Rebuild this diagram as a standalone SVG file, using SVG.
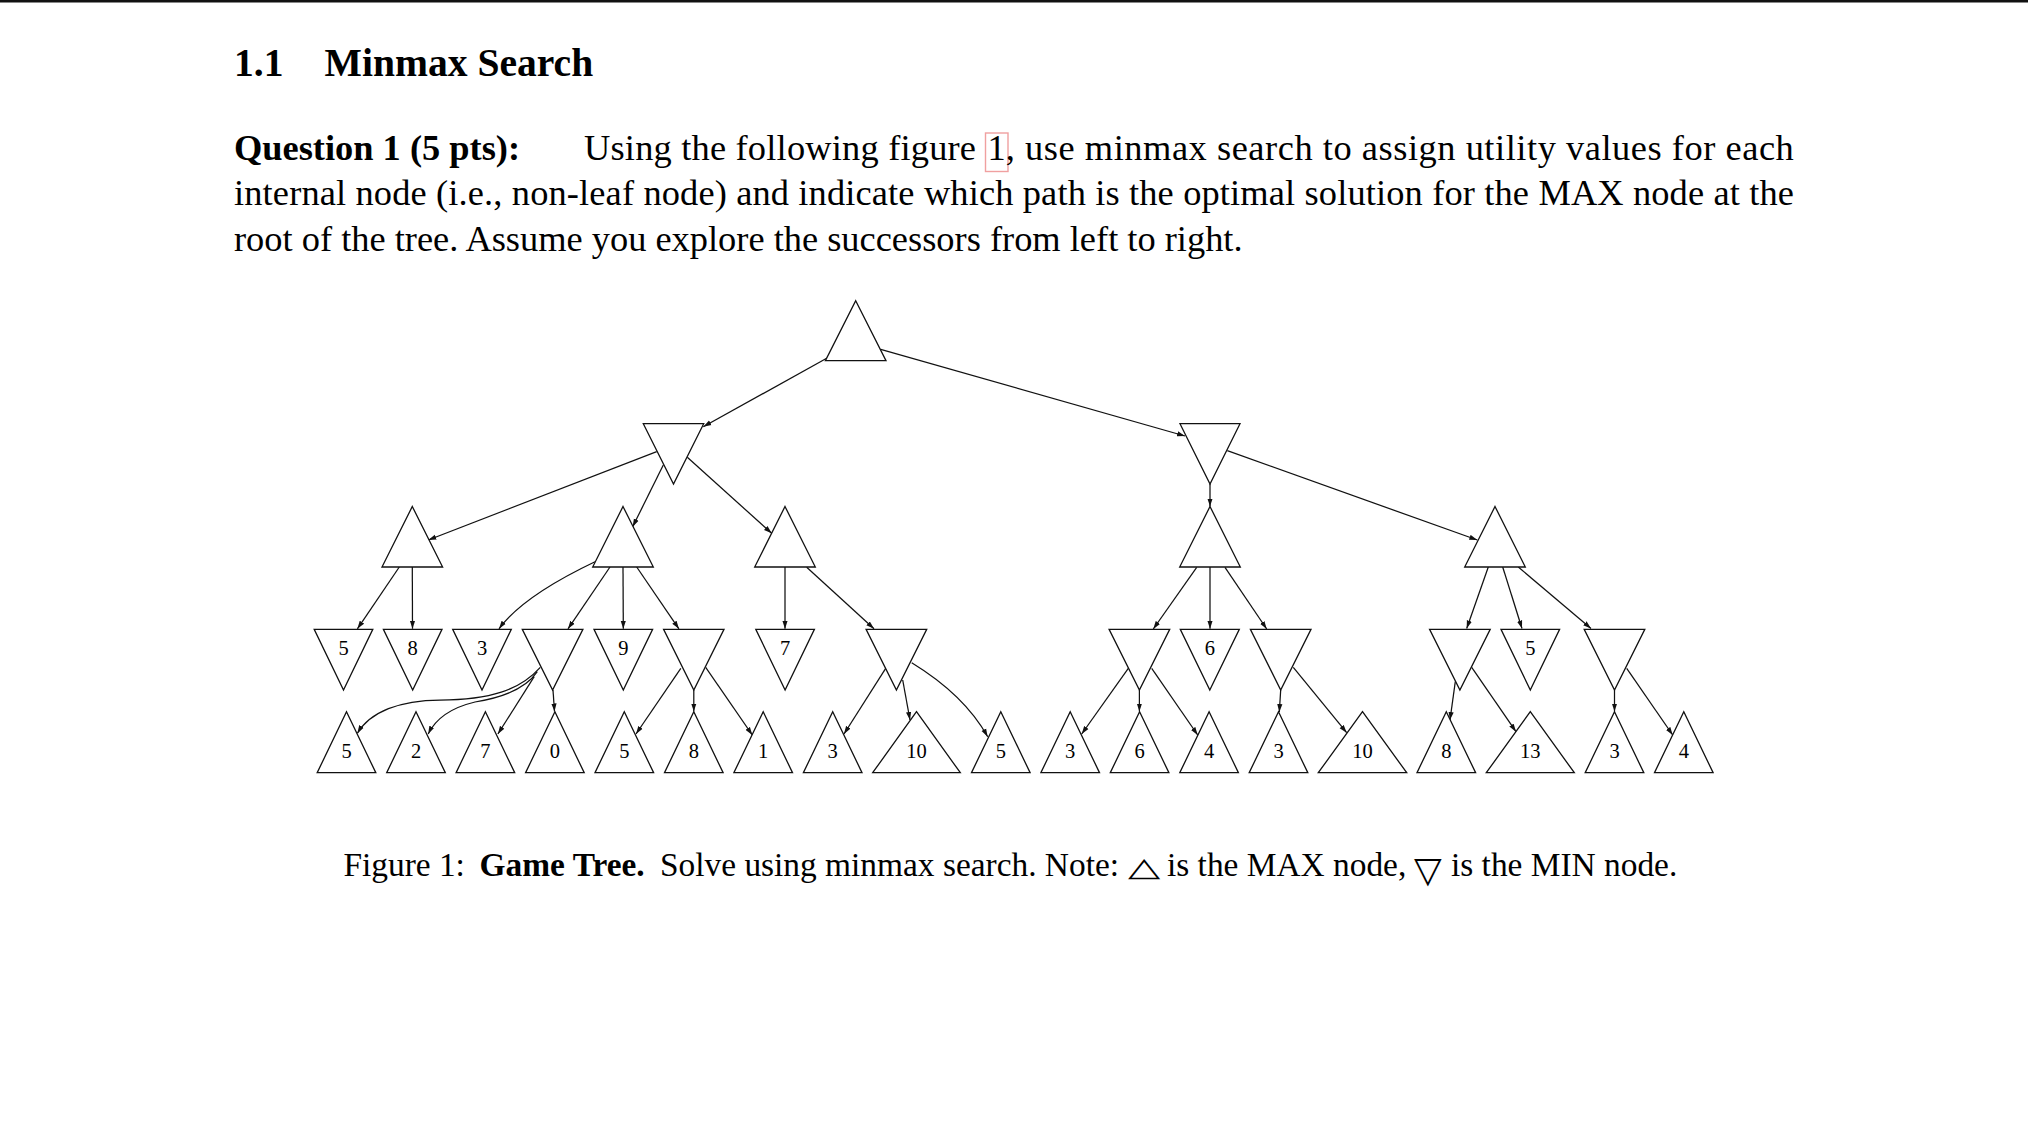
<svg xmlns="http://www.w3.org/2000/svg" width="2028" height="1142" viewBox="0 0 2028 1142">
<style>
.t{font-family:"Liberation Serif","Times New Roman",serif;fill:#000}
.h{font-size:39.6px;font-weight:bold}
.b{font-size:36.4px}
.bb{font-weight:bold}
.c{font-size:33.4px}
.sym{font-family:"DejaVu Sans",sans-serif;fill:#000}
.node polygon{fill:#fff;stroke:#111;stroke-width:1.3}
.node text{font-family:"Liberation Serif","Times New Roman",serif;font-size:20.5px;text-anchor:middle;fill:#000}
#connectors path{fill:none;stroke:#111;stroke-width:1.25;marker-end:url(#arr)}
</style>
<defs>
<marker id="arr" markerUnits="userSpaceOnUse" markerWidth="9" markerHeight="6" refX="8" refY="3" orient="auto">
<path d="M0,0.4 L8,3 L0,5.6 z" fill="#111"/>
</marker>
</defs>
<rect x="0" y="0" width="2028" height="1142" fill="#fff"/>
<rect x="0" y="0" width="2028" height="2.5" fill="#111"/>

<g id="heading">
<text class="t h" x="234" y="76">1.1</text>
<text class="t h" x="324.6" y="76">Minmax Search</text>
</g>
<g id="question">
<text class="t b bb" x="234" y="159.5">Question 1 (5 pts):</text>
<text class="t b" x="584" y="159.5" textLength="392" lengthAdjust="spacing">Using the following figure</text>
<text class="t b" x="987.6" y="159.5">1</text>
<rect x="985.5" y="133" width="22.5" height="38.5" fill="none" stroke="#f0a0a0" stroke-width="1.4"/>
<text class="t b" x="1005.8" y="159.5" textLength="788" lengthAdjust="spacing">, use minmax search to assign utility values for each</text>
<text class="t b" x="234" y="205" textLength="1560" lengthAdjust="spacing">internal node (i.e., non-leaf node) and indicate which path is the optimal solution for the MAX node at the</text>
<text class="t b" x="234" y="250.5">root of the tree. Assume you explore the successors from left to right.</text>
</g>

<g id="connectors">
<path d="M826.7,358.3 L703.3,426.7"/>
<path d="M880.7,349.3 L1185,436"/>
<path d="M656.7,451.7 L428.3,540"/>
<path d="M663.3,465 L632.7,526.7"/>
<path d="M687.3,457.3 L771.7,533.3"/>
<path d="M1210,484 L1210,506.5"/>
<path d="M1227.3,450.7 L1477.3,540"/>
<path d="M399.3,567 L357.4,628.8"/>
<path d="M412.3,567 L412.5,628.8"/>
<path d="M595,561.7 C565,576 520,600 499,628.8"/>
<path d="M610,567 L568,628.8"/>
<path d="M623,567 L623.3,628.8"/>
<path d="M636.7,567 L678.9,628.8"/>
<path d="M785,567 L785,628.8"/>
<path d="M806.7,567.3 L874,628.8"/>
<path d="M1196.7,567.3 L1153.3,629"/>
<path d="M1210,567 L1210,628.8"/>
<path d="M1225,567.3 L1266.7,629"/>
<path d="M1488.3,567 L1466.7,628.5"/>
<path d="M1502.7,567 L1522,628.5"/>
<path d="M1518.3,567 L1591,628.5"/>
<path d="M540.3,667.3 C520,690 490,700 440,700 C400,700 370,712 357.4,733.3"/>
<path d="M537.3,671.7 C525,690 500,698 475,702 C450,708 435,720 428.2,734"/>
<path d="M534.2,676.7 L497.9,734"/>
<path d="M553,690 L554.5,711.5"/>
<path d="M680.8,668.3 L636,734"/>
<path d="M693.8,690 L693.8,711.5"/>
<path d="M705.7,667.3 L752.3,735"/>
<path d="M885.7,668.3 L844,734"/>
<path d="M902.7,680 L910,720"/>
<path d="M911.7,662.7 C940,680 970,705 987.7,736.7"/>
<path d="M1128.3,668.3 L1081.7,734"/>
<path d="M1139.4,690 L1139.4,711.5"/>
<path d="M1151.7,668.3 L1197.7,735"/>
<path d="M1280.7,690 L1279.3,712"/>
<path d="M1293.3,667.3 L1346.7,732.7"/>
<path d="M1455.3,681.7 L1450,720"/>
<path d="M1471.7,667.3 L1516,731.7"/>
<path d="M1614.5,690 L1614.5,711.5"/>
<path d="M1626.7,668.3 L1672.7,735"/>
</g>

<g id="root" class="node"><polygon points="855.7,300.7 886,360.7 825.4,360.7"/></g>
<g id="minL" class="node"><polygon points="643.3,423.7 703.7,423.7 673.5,484"/></g>
<g id="minR" class="node"><polygon points="1180,423.7 1240,423.7 1210,484"/></g>

<g id="maxA" class="node"><polygon points="412.3,506.5 442.6,567 382,567"/></g>
<g id="maxB" class="node"><polygon points="623,506.5 653.3,567 592.7,567"/></g>
<g id="maxC" class="node"><polygon points="785,506.5 815.3,567 754.7,567"/></g>
<g id="maxD" class="node"><polygon points="1210,506.5 1240.3,567 1179.7,567"/></g>
<g id="maxE" class="node"><polygon points="1495,506.5 1525.3,567 1464.7,567"/></g>

<g id="min5" class="node"><polygon points="314.2,629.3 372.8,629.3 343.5,690"/><text x="343.5" y="655">5</text></g>
<g id="min8" class="node"><polygon points="383.4,629.3 442,629.3 412.7,690"/><text x="412.7" y="655">8</text></g>
<g id="min3" class="node"><polygon points="452.7,629.3 511.3,629.3 482,690"/><text x="482" y="655">3</text></g>
<g id="minM1" class="node"><polygon points="522.3,629.3 582.9,629.3 552.6,690"/></g>
<g id="min9" class="node"><polygon points="594,629.3 652.6,629.3 623.3,690"/><text x="623.3" y="655">9</text></g>
<g id="minM2" class="node"><polygon points="663.6,629.3 724,629.3 693.8,690"/></g>
<g id="min7" class="node"><polygon points="755.8,629.3 814.4,629.3 785.1,690"/><text x="785.1" y="655">7</text></g>
<g id="minM3" class="node"><polygon points="866.1,629.3 926.7,629.3 896.4,690"/></g>
<g id="minM4" class="node"><polygon points="1109.1,629.3 1169.7,629.3 1139.4,690"/></g>
<g id="min6" class="node"><polygon points="1180.3,629.3 1239.3,629.3 1209.8,690"/><text x="1209.8" y="655">6</text></g>
<g id="minM5" class="node"><polygon points="1250.4,629.3 1311,629.3 1280.7,690"/></g>
<g id="minM6" class="node"><polygon points="1429.6,629.3 1490.2,629.3 1459.9,690"/></g>
<g id="min5b" class="node"><polygon points="1501,629.3 1559.6,629.3 1530.3,690"/><text x="1530.3" y="655">5</text></g>
<g id="minM7" class="node"><polygon points="1584.2,629.3 1644.8,629.3 1614.5,690"/></g>

<g id="leaf1" class="node"><polygon points="346.5,711.7 375.8,772.7 317.2,772.7"/><text x="346.5" y="757.5">5</text></g>
<g id="leaf2" class="node"><polygon points="416,711.7 445.3,772.7 386.7,772.7"/><text x="416" y="757.5">2</text></g>
<g id="leaf3" class="node"><polygon points="485.4,711.7 514.7,772.7 456.1,772.7"/><text x="485.4" y="757.5">7</text></g>
<g id="leaf4" class="node"><polygon points="554.9,711.7 584.2,772.7 525.6,772.7"/><text x="554.9" y="757.5">0</text></g>
<g id="leaf5" class="node"><polygon points="624.3,711.7 653.6,772.7 595,772.7"/><text x="624.3" y="757.5">5</text></g>
<g id="leaf6" class="node"><polygon points="693.8,711.7 723.1,772.7 664.5,772.7"/><text x="693.8" y="757.5">8</text></g>
<g id="leaf7" class="node"><polygon points="763.2,711.7 792.5,772.7 733.9,772.7"/><text x="763.2" y="757.5">1</text></g>
<g id="leaf8" class="node"><polygon points="832.7,711.7 862,772.7 803.4,772.7"/><text x="832.7" y="757.5">3</text></g>
<g id="leaf9" class="node"><polygon points="916.5,711.7 960.3,772.7 872.7,772.7"/><text x="916.5" y="757.5">10</text></g>
<g id="leaf10" class="node"><polygon points="1000.8,711.7 1030.1,772.7 971.5,772.7"/><text x="1000.8" y="757.5">5</text></g>
<g id="leaf11" class="node"><polygon points="1070.2,711.7 1099.5,772.7 1040.9,772.7"/><text x="1070.2" y="757.5">3</text></g>
<g id="leaf12" class="node"><polygon points="1139.6,711.7 1168.9,772.7 1110.3,772.7"/><text x="1139.6" y="757.5">6</text></g>
<g id="leaf13" class="node"><polygon points="1209.1,711.7 1238.4,772.7 1179.8,772.7"/><text x="1209.1" y="757.5">4</text></g>
<g id="leaf14" class="node"><polygon points="1278.5,711.7 1307.8,772.7 1249.2,772.7"/><text x="1278.5" y="757.5">3</text></g>
<g id="leaf15" class="node"><polygon points="1362.5,711.7 1406.7,772.7 1318.3,772.7"/><text x="1362.5" y="757.5">10</text></g>
<g id="leaf16" class="node"><polygon points="1446.3,711.7 1475.6,772.7 1417,772.7"/><text x="1446.3" y="757.5">8</text></g>
<g id="leaf17" class="node"><polygon points="1530.3,711.7 1574.3,772.7 1486.3,772.7"/><text x="1530.3" y="757.5">13</text></g>
<g id="leaf18" class="node"><polygon points="1614.5,711.7 1643.8,772.7 1585.2,772.7"/><text x="1614.5" y="757.5">3</text></g>
<g id="leaf19" class="node"><polygon points="1683.8,711.7 1713.1,772.7 1654.5,772.7"/><text x="1683.8" y="757.5">4</text></g>

<g id="caption">
<text class="t c" x="343.4" y="876">Figure 1:</text>
<text class="t c bb" x="479.6" y="876">Game Tree.</text>
<text class="t c" x="660" y="876">Solve using minmax search. Note:</text>
<text class="sym" font-size="40" transform="translate(1128,876) scale(1.05,0.66)">△</text>
<text class="t c" x="1167" y="876">is the MAX node,</text>
<text class="sym" font-size="36" transform="translate(1414,882)">▽</text>
<text class="t c" x="1451" y="876">is the MIN node.</text>
</g>
</svg>
